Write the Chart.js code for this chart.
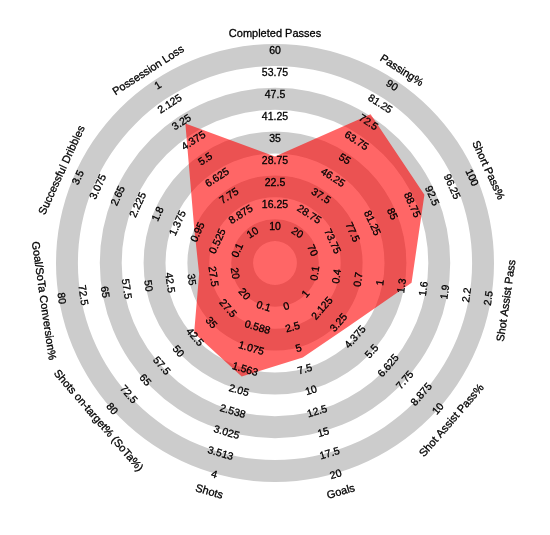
<!DOCTYPE html>
<html>
<head>
<meta charset="utf-8">
<script src="https://cdn.jsdelivr.net/npm/chart.js@4.4.0/dist/chart.umd.min.js"></script>
<style>
  html, body { margin: 0; padding: 0; background: #ffffff; }
  #radar { display: block; }
</style>
</head>
<body>
<canvas id="radar" width="550" height="535"></canvas>
<script>
// Radar parameters, clockwise from the top
const params = ['Completed Passes', 'Passing%', 'Short Pass%', 'Shot Assist Pass', 'Shot Assist Pass%',
  'Goals', 'Shots', 'Shots on-target% (SoTa%)', 'Goal/SoTa Conversion%', 'Successful Dribbles', 'Possession Loss'];
// range of each axis (Possession Loss is lower-is-better, so it runs 10 -> 1)
const lowValues = [10, 20, 70, 0.1, 1, 0, 0.1, 20, 20, 0.1, 10];
const highValues = [60, 90, 100, 2.5, 10, 20, 4, 80, 80, 3.5, 1];
// player values
const playerValues = [31, 77.5, 92.5, 1.54, 4.3, 7.5, 2.0, 45.4, 35, 1.19, 3.17];
// ring labels on every axis, inner to outer
const tickLabels = [
  ['10', '16.25', '22.5', '28.75', '35', '41.25', '47.5', '53.75', '60'],
  ['20', '28.75', '37.5', '46.25', '55', '63.75', '72.5', '81.25', '90'],
  ['70', '73.75', '77.5', '81.25', '85', '88.75', '92.5', '96.25', '100'],
  ['0.1', '0.4', '0.7', '1', '1.3', '1.6', '1.9', '2.2', '2.5'],
  ['1', '2.125', '3.25', '4.375', '5.5', '6.625', '7.75', '8.875', '10'],
  ['0', '2.5', '5', '7.5', '10', '12.5', '15', '17.5', '20'],
  ['0.1', '0.588', '1.075', '1.563', '2.05', '2.538', '3.025', '3.513', '4'],
  ['20', '27.5', '35', '42.5', '50', '57.5', '65', '72.5', '80'],
  ['20', '27.5', '35', '42.5', '50', '57.5', '65', '72.5', '80'],
  ['0.1', '0.525', '0.95', '1.375', '1.8', '2.225', '2.65', '3.075', '3.5'],
  ['10', '8.875', '7.75', '6.625', '5.5', '4.375', '3.25', '2.125', '1']
];

// the radial scale runs 0..10 ring units: centre circle is 1 unit,
// the first label sits at 1.5 and the last at 9.5
const FIRST_LABEL = 1.5;
const LABEL_SPAN = 8;
const scaled = playerValues.map((v, i) =>
  FIRST_LABEL + LABEL_SPAN * (v - lowValues[i]) / (highValues[i] - lowValues[i]));

function textRotation(angle) {
  let deg = angle * 180 / Math.PI;
  if (deg > 90 && deg < 270) deg -= 180;
  else if (deg >= 270) deg -= 360;
  return deg * Math.PI / 180;
}

function drawText(ctx, txt, x, y, rot) {
  ctx.save();
  ctx.translate(x, y);
  ctx.rotate(rot);
  ctx.strokeText(txt, 0, 0);
  ctx.fillText(txt, 0, 0);
  ctx.restore();
}

const ringsPlugin = {
  id: 'rings',
  beforeDatasetsDraw(chart) {
    const scale = chart.scales.r;
    const ctx = chart.ctx;
    const cx = scale.xCenter, cy = scale.yCenter;
    ctx.save();
    ctx.fillStyle = '#cccccc';
    for (let k = 1; k < 10; k += 2) {
      const rIn = scale.getDistanceFromCenterForValue(k);
      const rOut = scale.getDistanceFromCenterForValue(k + 1);
      ctx.beginPath();
      ctx.arc(cx, cy, rOut, 0, Math.PI * 2);
      ctx.moveTo(cx + rIn, cy);
      ctx.arc(cx, cy, rIn, 0, Math.PI * 2, true);
      ctx.fill();
    }
    ctx.restore();
  },
  afterDatasetsDraw(chart) {
    const scale = chart.scales.r;
    const ctx = chart.ctx;
    ctx.save();
    ctx.fillStyle = '#000000';
    ctx.strokeStyle = '#000000';
    ctx.lineWidth = 0.3;
    ctx.textAlign = 'center';
    ctx.textBaseline = 'middle';

    // range labels
    ctx.font = '10.5px "Liberation Sans"';
    tickLabels.forEach((labels, i) => {
      const rot = textRotation(scale.getIndexAngle(i));
      labels.forEach((txt, k) => {
        const d = scale.getDistanceFromCenterForValue(FIRST_LABEL + k) + 8;
        const p = scale.getPointPosition(i, d);
        drawText(ctx, txt, p.x, p.y + 4.5, rot);
      });
    });

    // parameter names
    ctx.font = '11px "Liberation Sans"';
    params.forEach((name, i) => {
      const rot = textRotation(scale.getIndexAngle(i));
      const p = scale.getPointPosition(i, scale.getDistanceFromCenterForValue(10) + 15);
      drawText(ctx, name, p.x, p.y + 4.5, rot);
    });
    ctx.restore();
  }
};

const radarChart = new Chart(document.getElementById('radar').getContext('2d'), {
  type: 'radar',
  data: {
    labels: params,
    datasets: [{
      data: scaled,
      backgroundColor: 'rgba(255, 0, 0, 0.6)',
      borderWidth: 0,
      pointRadius: 0,
      fill: true
    }]
  },
  options: {
    responsive: false,
    devicePixelRatio: 1,
    animation: false,
    layout: { padding: { left: 56, right: 55, top: 44, bottom: 52 } },
    plugins: { legend: { display: false }, tooltip: { enabled: false } },
    scales: {
      r: {
        min: 0,
        max: 10,
        grid: { display: false },
        angleLines: { display: false },
        pointLabels: { display: false },
        ticks: { display: false }
      }
    }
  },
  plugins: [ringsPlugin]
});
</script>
</body>
</html>
